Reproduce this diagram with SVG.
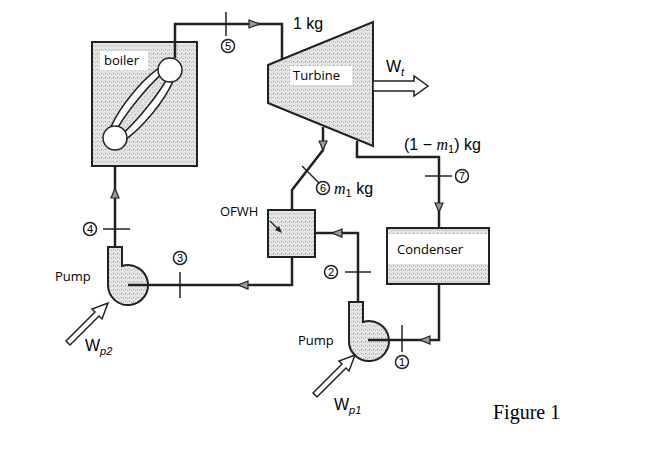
<svg xmlns="http://www.w3.org/2000/svg" width="670" height="466" viewBox="0 0 670 466">
<defs>
<pattern id="st" width="4" height="4" patternUnits="userSpaceOnUse"><rect width="4" height="4" fill="#e4e4e4"/><rect x="1" y="1" width="1" height="1" fill="#999"/><rect x="3" y="2" width="1" height="1" fill="#bbb"/></pattern>
</defs>
<style>
.sh{fill:url(#st);stroke:#222;stroke-width:2}
.p{fill:none;stroke:#222;stroke-width:2.5}
.t{fill:none;stroke:#222;stroke-width:1.5}
.ah{fill:#999;stroke:#222;stroke-width:1.2}
.c{fill:#fff;stroke:#222;stroke-width:1.5}
.n{font-family:"Liberation Sans",Arial,sans-serif;font-size:11px;text-anchor:middle}
.lb{font-family:"Open Sans","Liberation Sans",sans-serif;font-size:13px}
.big{font-family:"Liberation Sans",Arial,sans-serif;font-size:16px}
.sub{font-size:11px;font-style:italic}
.ho{fill:#fff;stroke:#222;stroke-width:1.5}
</style>
<rect width="670" height="466" fill="#fff"/>
<g id="boiler">
<rect class="sh" x="92" y="42" width="105" height="124"/>
<ellipse cx="142" cy="104" rx="52" ry="14" transform="rotate(-51 142 104)" fill="#fff" stroke="#222" stroke-width="1.5"/>
<ellipse cx="142" cy="104" rx="44" ry="6" transform="rotate(-51 142 104)" fill="url(#st)" stroke="#222" stroke-width="1.5"/>
<circle class="c" cx="170" cy="70" r="12"/>
<circle class="c" cx="115" cy="138" r="12"/>
<rect x="100" y="51" width="48" height="19" fill="#fff"/>
<text class="lb" x="104" y="65">boiler</text>
</g>
<g id="turbine">
<polygon class="sh" points="268,65 373,22 373,146 268,103"/>
<rect x="290" y="66" width="62" height="19" fill="#fff"/>
<text class="lb" x="293" y="80">Turbine</text>
<text class="big" x="293" y="29">1 kg</text>
<polygon class="ho" points="373,81 414,81 414,76 428,86 414,96 414,91 373,91"/>
<text class="big" x="386" y="72">W<tspan class="sub" dy="4">t</tspan></text>
</g>
<g id="ofwh">
<rect class="sh" x="268" y="210" width="47" height="47"/>
<text class="lb" x="220" y="216">OFWH</text>
<line x1="270" y1="221" x2="280" y2="231" stroke="#222" stroke-width="1.2"/>
<polygon points="282,233 275,230 279,226" fill="#222"/>
</g>
<g id="condenser">
<rect class="sh" x="387" y="228" width="102" height="56"/>
<rect x="388" y="234" width="100" height="30" fill="#fff"/>
<text class="lb" x="397" y="254">Condenser</text>
</g>
<g id="pump1">
<path class="sh" d="M349,302 H363 V322 A20,20 0 1 1 349,340 Z"/>
<text class="lb" x="298" y="345">Pump</text>
<polygon class="ho" points="313,393 342,364 339,361 355,355 349,371 346,368 317,397"/>
<text class="big" x="334" y="410">W<tspan class="sub" dy="4">p1</tspan></text>
</g>
<g id="pump2">
<path class="sh" d="M108,247 H122 V266 A20,20 0 1 1 108,285 Z"/>
<text class="lb" x="55" y="281">Pump</text>
<polygon class="ho" points="66,341 95,312 92,309 108,303 102,319 99,316 70,345"/>
<text class="big" x="85" y="351">W<tspan class="sub" dy="4">p2</tspan></text>
</g>
<g id="connectors">
<polyline class="p" points="175,58 175,24 282,24 282,60"/>
<polyline class="p" points="323,127 323,150 292,190 292,210"/>
<polyline class="p" points="357,141 357,157 439,157 439,228"/>
<polyline class="p" points="439,284 439,340 368,340"/>
<polyline class="p" points="358,302 358,233 315,233"/>
<polyline class="p" points="292,257 292,285 128,285"/>
<polyline class="p" points="115,247 115,166"/>
<polygon class="ah" points="249,20 260,24 249,28"/>
<polygon class="ah" points="319,141 323,150 327,141"/>
<polygon class="ah" points="435,203 439,212 443,203"/>
<polygon class="ah" points="430,336 420,340 430,344"/>
<polygon class="ah" points="342,229 332,233 342,237"/>
<polygon class="ah" points="248,281 238,285 248,289"/>
<polygon class="ah" points="111,198 115,188 119,198"/>
<line class="t" x1="226" y1="12" x2="226" y2="36"/>
<line class="t" x1="302" y1="166" x2="320" y2="184"/>
<line class="t" x1="425" y1="176" x2="452" y2="176"/>
<line class="t" x1="402" y1="325" x2="402" y2="352"/>
<line class="t" x1="345" y1="272" x2="371" y2="272"/>
<line class="t" x1="180" y1="272" x2="180" y2="298"/>
<line class="t" x1="103" y1="229" x2="130" y2="229"/>
</g>
<g id="labels">
<circle class="c" cx="228" cy="46" r="6.5"/><text class="n" x="228" y="50">5</text>
<circle class="c" cx="323" cy="188" r="6.5"/><text class="n" x="323" y="192">6</text>
<text class="big" x="334" y="194"><tspan font-family="Liberation Serif" font-style="italic">m</tspan><tspan style="font-size:11px" dy="3">1</tspan><tspan dy="-3"> kg</tspan></text>
<circle class="c" cx="462" cy="176" r="6.5"/><text class="n" x="462" y="180">7</text>
<text class="big" x="404" y="150">(1 − <tspan font-family="Liberation Serif" font-style="italic">m</tspan><tspan style="font-size:11px" dy="3">1</tspan><tspan dy="-3">) kg</tspan></text>
<circle class="c" cx="402" cy="362" r="6.5"/><text class="n" x="402" y="366">1</text>
<circle class="c" cx="331" cy="272" r="6.5"/><text class="n" x="331" y="276">2</text>
<circle class="c" cx="180" cy="258" r="6.5"/><text class="n" x="180" y="262">3</text>
<circle class="c" cx="90" cy="229" r="6.5"/><text class="n" x="90" y="233">4</text>
<text x="493" y="419" font-family="Liberation Serif,serif" font-size="20">Figure 1</text>
</g>
</svg>
